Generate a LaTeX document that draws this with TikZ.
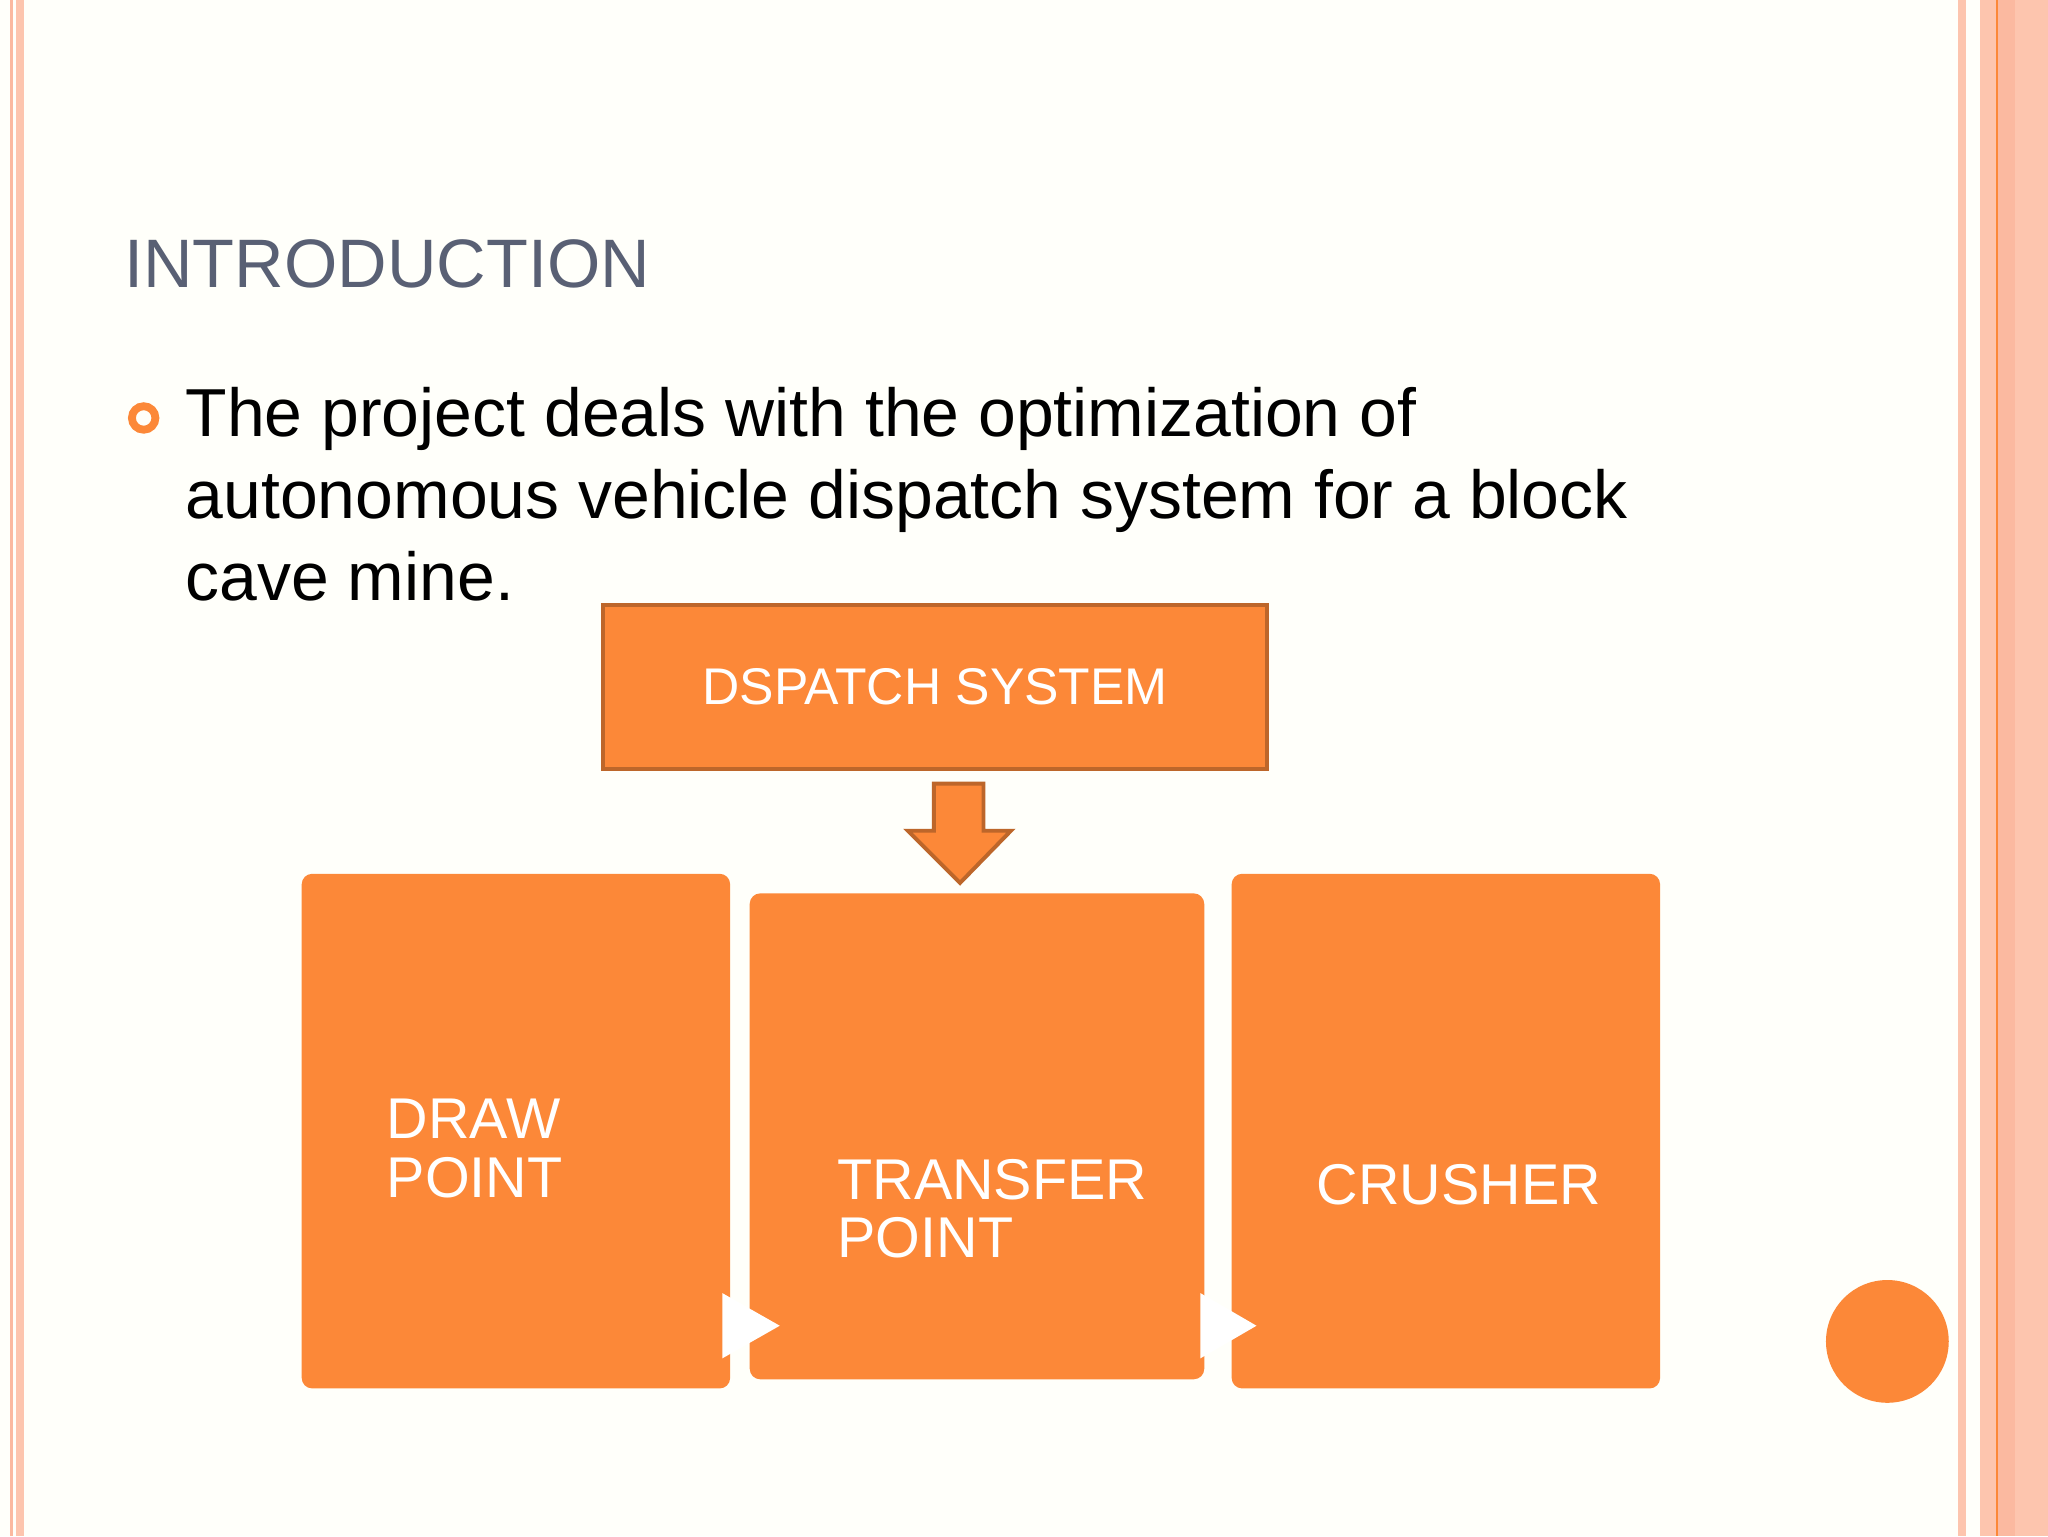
\documentclass[tikz,border=0pt]{standalone}
\usepackage{fontspec}
\setmainfont{Liberation Sans}
\begin{document}
\begin{tikzpicture}[x=1pt,y=-1pt,
  box/.style={fill=boxor,rounded corners=8pt,draw=none},
  lbl/.style={text=white,font=\fontsize{44}{45}\selectfont,align=left,inner sep=0pt,anchor=base west},
  tri/.style={fill=white,draw=none}]
\definecolor{boxor}{HTML}{FC8838}
\definecolor{pk}{HTML}{FDC5AE}
\definecolor{pk2}{HTML}{FBB9A0}
\definecolor{ttl}{HTML}{596074}
\fill[white!98!yellow] (0,0) rectangle (1568,1176);
\useasboundingbox (0,0) rectangle (1568,1176);
% borders
\fill[pk2] (8,0) rectangle (10,1176);
\fill[pk] (12,0) rectangle (18,1176);
\fill[pk] (1499,0) rectangle (1505,1176);
\fill[pk] (1516,0) rectangle (1528,1176);
\fill[pk2] (1529,0) rectangle (1543,1176);
\fill[boxor] (1528,0) rectangle (1530,1176);
\fill[pk] (1543,0) rectangle (1568,1176);
% title
\node[anchor=base west,inner sep=0pt,text=ttl,font=\fontsize{52.5}{60}\selectfont] (title) at (95,220) {INTRODUCTION};
\draw[boxor,line width=6pt] (110,320) circle (9);
\node[anchor=base west,inner sep=0pt,align=left,font=\fontsize{52}{63}\selectfont] (body) at (142,460)
 {The project deals with the optimization of\\autonomous vehicle dispatch system for a block\\cave mine.};
% dispatch
\node[draw=boxor!75!black,line width=3pt,fill=boxor,minimum width=508pt,minimum height=125pt,inner sep=0pt,
  text=white,font=\fontsize{39.5}{44}\selectfont] (disp) at (716,526) {DSPATCH SYSTEM};
\draw[draw=boxor!75!black,fill=boxor,line width=3pt,line join=miter] (715,600) -- (753,600) -- (753,636) -- (774,636) -- (735,676) -- (695,636) -- (715,636) -- cycle;
% boxes
\fill[box] (231,669) rectangle (559,1063);
\fill[box] (943,669) rectangle (1271,1063);
\fill[box] (574,684) rectangle (922,1056);
\fill[tri] (553,990) -- (597,1015) -- (553,1040) -- cycle;
\fill[tri] (919,990) -- (962,1015) -- (919,1040) -- cycle;
\node[lbl] (dp) at (296,917) {DRAW\\POINT};
\node[lbl] (tp) at (641,963) {TRANSFER\\POINT};
\node[lbl] (cr) at (1008,922) {CRUSHER};
\fill[boxor] (1445,1027) circle (47);
\end{tikzpicture}
\end{document}
